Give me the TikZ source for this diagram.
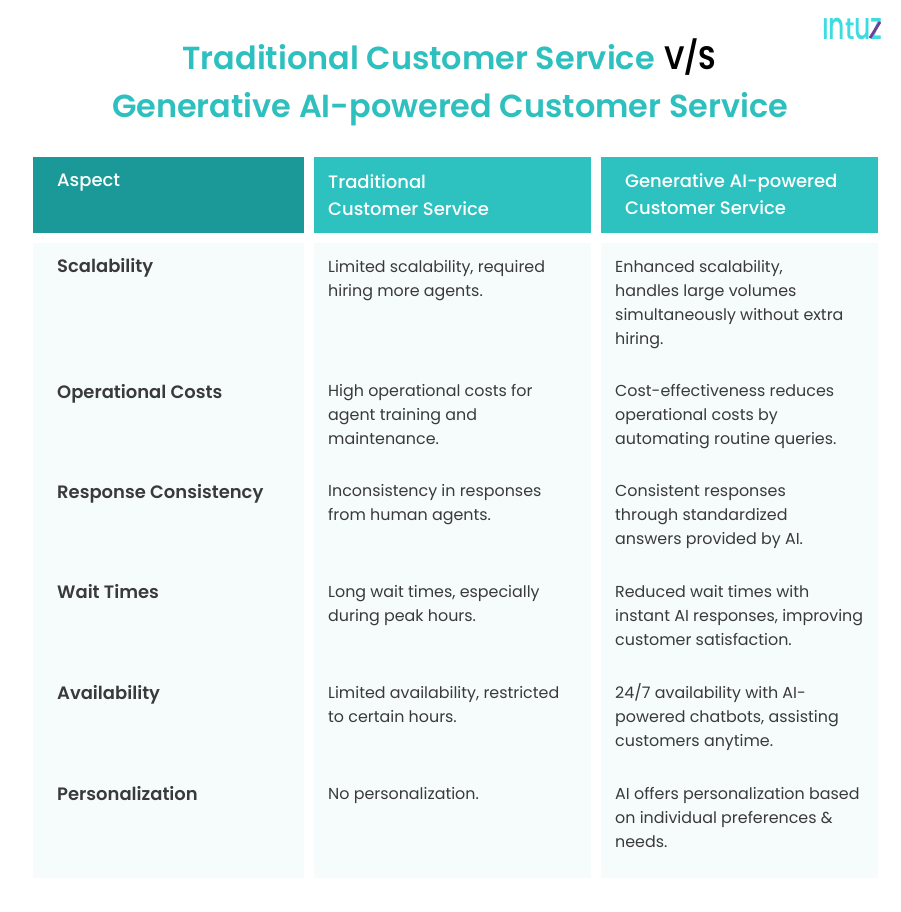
\documentclass[tikz,border=0pt]{standalone}
\usepackage{fontspec}
\setmainfont{Poppins}
\newfontfamily\medfont{Poppins Medium}
\newfontfamily\semifont{Poppins SemiBold}
\definecolor{title_teal}{RGB}{45,192,190}
\definecolor{head_dark}{RGB}{27,152,152}
\definecolor{head_teal}{RGB}{45,194,192}
\definecolor{cell_bg}{RGB}{246,252,252}
\definecolor{body_gray}{RGB}{58,58,60}
\definecolor{logo_teal}{RGB}{60,220,225}
\definecolor{logo_purple}{RGB}{115,60,150}
\newcommand\bodyfont{\fontsize{15.9}{24}\selectfont}
\newcommand\headfont{\fontsize{18}{27}\selectfont}
\newcommand\logoflat[1]{\scalebox{0.84}[1]{#1}}
\newcommand\logotall[1]{\scalebox{0.84}[1.27]{#1}}

\begin{document}
\begin{tikzpicture}[x=1pt,y=-1pt]
    \tikzstyle{panel}=[draw=none, inner sep=0pt, outer sep=0pt, anchor=north west]
    \tikzstyle{hd}=[style=panel, minimum height=76pt]
    \tikzstyle{bg}=[style=panel, fill=cell_bg, minimum height=635pt]
    \tikzstyle{ttl}=[inner sep=0pt, font=\semifont\fontsize{31.9}{36}\selectfont, text=title_teal]
    \tikzstyle{htext}=[inner sep=0pt, anchor=base west, align=left, text=white, font=\medfont\headfont]
    \tikzstyle{aspect}=[inner sep=0pt, anchor=base west, text=body_gray, font=\semifont\fontsize{17.95}{24}\selectfont]
    \tikzstyle{cell}=[inner sep=0pt, anchor=base west, align=left, text=body_gray, font=\bodyfont]

    \useasboundingbox (0,0) rectangle (900,912);
    \fill[white] (0,0) rectangle (900,912);

    % title
    \node[ttl, anchor=base east] (t1) at (655,70) {Traditional Customer Service};
    \node[ttl, anchor=base west, text=black, font=\semifont\fontsize{32.5}{36}\selectfont] (vs) at (664,70) {\scalebox{0.89}[1]{V/S}};
    \node[ttl, anchor=base] (t2) at (450,118) {Generative AI-powered Customer Service};

    % logo
    \node[inner sep=0pt, anchor=base west, text=logo_teal, font=\medfont\fontsize{30}{30}\selectfont] (logo) at (822,40) {\logoflat{I}\logotall{n}\logoflat{t}\logotall{uz}};
    \coordinate (za) at (880,22);
    \coordinate (zb) at (870,38);
    \draw[logo_purple, line width=2.8pt] (za) -- (zb);

    % header row
    \node[hd, fill=head_dark, minimum width=271pt] (h1) at (33,157) {};
    \node[hd, fill=head_teal, minimum width=277pt] (h2) at (314,157) {};
    \node[hd, fill=head_teal, minimum width=277pt] (h3) at (601,157) {};
    \node[htext] (aspect) at (57,186) {Aspect};
    \node[htext] (trad) at (328,215) {Traditional\\Customer Service};
    \node[htext] (gen) at (625,214) {Generative AI-powered\\Customer Service};

    % body panels
    \node[bg, minimum width=271pt] (c1) at (33,243) {};
    \node[bg, minimum width=277pt] (c2) at (314,243) {};
    \node[bg, minimum width=277pt] (c3) at (601,243) {};

    \node[aspect] (a1) at (57,272) {Scalability};
    \node[cell] (b1) at (328,296) {Limited scalability, required\\hiring more agents.};
    \node[cell] (d1) at (615,344) {Enhanced scalability,\\handles large volumes\\simultaneously without extra\\hiring.};

    \node[aspect] (a2) at (57,398) {Operational Costs};
    \node[cell] (b2) at (328,444) {High operational costs for\\agent training and\\maintenance.};
    \node[cell] (d2) at (615,444) {Cost-effectiveness reduces\\operational costs by\\automating routine queries.};

    \node[aspect] (a3) at (57,498) {Response Consistency};
    \node[cell] (b3) at (328,520) {Inconsistency in responses\\from human agents.};
    \node[cell] (d3) at (615,544) {Consistent responses\\through standardized\\answers provided by AI.};

    \node[aspect] (a4) at (57,598) {Wait Times};
    \node[cell] (b4) at (328,621) {Long wait times, especially\\during peak hours.};
    \node[cell] (d4) at (615,645) {Reduced wait times with\\instant AI responses, improving\\customer satisfaction.};

    \node[aspect] (a5) at (57,699) {Availability};
    \node[cell] (b5) at (328,722) {Limited availability, restricted\\to certain hours.};
    \node[cell] (d5) at (615,746) {24/7 availability with AI-\\powered chatbots, assisting\\customers anytime.};

    \node[aspect] (a6) at (57,800) {Personalization};
    \node[cell] (b6) at (328,799) {No personalization.};
    \node[cell] (d6) at (615,847) {AI offers personalization based\\on individual preferences \&\\needs.};
\end{tikzpicture}
\end{document}
